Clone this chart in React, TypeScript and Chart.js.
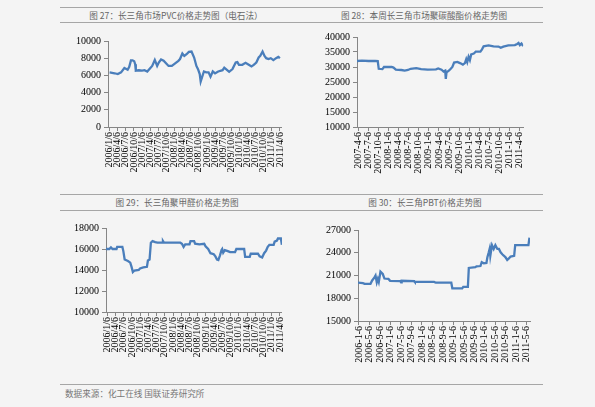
import React, { useEffect, useRef } from "react";
import { Chart, registerables } from "chart.js";

Chart.register(...registerables);

// ---------- DATA ----------
const quarterlyLabels = [
  "2006/1/6", "2006/4/6", "2006/7/6", "2006/10/6",
  "2007/1/6", "2007/4/6", "2007/7/6", "2007/10/6",
  "2008/1/6", "2008/4/6", "2008/7/6", "2008/10/6",
  "2009/1/6", "2009/4/6", "2009/7/6", "2009/10/6",
  "2010/1/6", "2010/4/6", "2010/7/6", "2010/10/6",
  "2011/1/6", "2011/4/6",
];

const pcLabels = [
  "2007-4-6", "2007-7-6", "2007-10-6", "2008-1-6", "2008-4-6", "2008-7-6",
  "2008-10-6", "2009-1-6", "2009-4-6", "2009-7-6", "2009-10-6", "2010-1-6",
  "2010-4-6", "2010-7-6", "2010-10-6", "2011-1-6", "2011-4-6",
];

const pbtLabels = [
  "2006-1-6", "2006-5-6", "2006-9-6", "2007-1-6", "2007-5-6", "2007-9-6",
  "2008-1-6", "2008-5-6", "2008-9-6", "2009-1-6", "2009-5-6", "2009-9-6",
  "2010-1-6", "2010-5-6", "2010-9-6", "2011-1-6", "2011-5-6",
];

// PVC (time in label periods since first label)
const pvcTime = [
  0, 0.61, 1.01, 1.41, 1.82, 2.22, 2.42, 2.63, 2.83, 3.03, 3.15, 3.23, 3.6, 4.0, 4.3,
  4.64, 5.05, 5.25, 5.57, 5.86, 6.06, 6.34, 6.66, 7.07, 7.27, 7.67, 8.08, 8.48, 8.68, 8.97,
  9.21, 9.49, 9.77, 10.1, 10.42, 10.7, 10.9, 11.11, 11.23, 11.39, 11.63, 11.91, 12.2, 12.44, 12.72,
  13.0, 13.33, 13.65, 13.93, 14.14, 14.46, 14.74, 15.15, 15.55, 15.75, 15.95, 16.36, 16.76, 17.16, 17.49,
  17.77, 18.09, 18.38, 18.58, 18.86, 19.1, 19.31, 19.59, 19.87, 20.19, 20.52, 20.8, 21.0,
];
const pvcPrice = [
  6350, 6250, 6150, 6350, 6850, 6650, 7000, 7750, 7750, 7650, 7300, 6550, 6600, 6550, 6600,
  6450, 6900, 7100, 7800, 7100, 7500, 7850, 7700, 7300, 7100, 7100, 7400, 7700, 7900, 8550,
  8270, 8460, 8730, 8770, 8080, 7100, 6730, 6150, 5300, 5770, 6460, 6350, 6350, 5850, 6460,
  6230, 6420, 6540, 6600, 6900, 6650, 6420, 6730, 7500, 7550, 7230, 7230, 7460, 7230, 7040,
  7230, 7500, 8080, 8270, 8770, 8270, 8000, 7900, 8000, 7770, 8000, 8150, 8000,
];

// PC
const pcTime = [
  -0.1, 0.39, 1.04, 1.69, 1.95, 2.05, 2.41, 2.57, 3.32, 3.51, 3.74, 4.29, 4.62, 4.94, 5.2,
  5.76, 6.24, 6.89, 7.71, 7.93, 8.26, 8.46, 8.62, 8.68, 8.75, 8.98, 9.17, 9.33, 9.5, 9.82,
  10.08, 10.37, 10.57, 10.7, 10.8, 10.93, 11.06, 11.19, 11.45, 11.64, 12.1, 12.26, 12.42, 12.91, 13.4,
  13.89, 14.11, 14.37, 14.86, 15.51, 15.74, 15.87, 16.0, 16.16, 16.33,
];
const pcPrice = [
  32000, 32100, 32000, 32050, 32000, 29400, 29300, 30000, 30000, 29800, 29100, 29000, 28800, 29000, 29400,
  29600, 29300, 29100, 29200, 29500, 29100, 28500, 28800, 26000, 28200, 28800, 29400, 30000, 31500, 31700,
  31300, 30800, 31300, 32600, 31600, 33400, 32300, 34200, 34500, 35100, 35150, 35900, 36900, 37200, 36900,
  36800, 36400, 36800, 37200, 37300, 37700, 38000, 37300, 37800, 37000,
];

// POM
const pomTime = [
  -0.16, 0.24, 0.44, 0.64, 1.12, 1.2, 1.83, 1.95, 2.11, 2.51, 2.79, 2.95, 3.11, 3.31, 3.82,
  3.98, 4.38, 4.82, 4.94, 5.14, 5.3, 5.5, 5.82, 6.1, 6.69, 6.77, 6.89, 8.88, 9.08, 9.28,
  9.48, 10.0, 10.12, 10.56, 10.68, 11.2, 11.79, 11.95, 12.27, 12.55, 12.95, 13.15, 13.35, 13.51, 13.71,
  13.9, 13.98, 14.1, 14.3, 14.66, 14.94, 15.54, 15.7, 16.65, 16.77, 17.33, 17.45, 18.33, 18.53, 18.84,
  19.08, 19.32, 19.52, 19.72, 20.24, 20.36, 20.64, 20.76, 21.12, 21.24,
];
const pomPrice = [
  16000, 16000, 16150, 16000, 16000, 16200, 16200, 15800, 15000, 14850, 14700, 14300, 13800, 13950, 14000,
  14150, 14250, 14300, 14900, 15000, 16600, 16750, 16650, 16600, 16600, 16750, 16600, 16600, 16500, 16200,
  16450, 16450, 16750, 16750, 16500, 16450, 16500, 16250, 16000, 15600, 15500, 15300, 15000, 14950, 15400,
  15900, 16000, 15650, 15900, 15800, 15700, 15700, 16000, 16000, 15250, 15250, 15550, 15550, 15300, 15200,
  15600, 15850, 16200, 16400, 16400, 16700, 16800, 17000, 17000, 16400,
];

// PBT
const pbtTime = [
  -0.09, 0.38, 0.54, 1.1, 1.26, 1.48, 1.58, 1.7, 1.8, 1.89, 2.05, 2.27, 2.43, 2.81, 2.97,
  3.94, 4.01, 4.07, 5.27, 5.33, 7.16, 7.32, 8.8, 8.9, 9.84, 9.94, 10.38, 10.47, 11.1, 11.2,
  11.58, 11.7, 11.89, 12.15, 12.24, 12.37, 12.46, 12.52, 12.68, 12.84, 13.0, 13.19, 13.34, 13.5, 13.66,
  13.82, 13.97, 14.13, 14.29, 14.45, 14.79, 14.89, 16.15, 16.25,
];
const pbtPrice = [
  20050, 20000, 19900, 19900, 20350, 20750, 21000, 20100, 20550, 20150, 21500, 21200, 20600, 20550, 20300,
  20250, 20100, 20300, 20250, 20150, 20150, 20050, 20050, 19300, 19300, 19500, 19500, 22000, 22100, 22200,
  22250, 22750, 22600, 22650, 23400, 24050, 24550, 23600, 25000, 24500, 25000, 24500, 24500, 24050, 23800,
  23600, 23400, 23050, 23250, 23500, 23600, 25000, 25000, 26000,
];

// ---------- CHART ----------
const AXIS = "#868686";
const LINE = "#4A7EBB";
const TICK_FONT = { family: "'Liberation Serif', 'Times New Roman', serif", size: 10 };

type Area = { left: number; top: number; right: number; bottom: number };

function MiniChart(props: {
  area: Area;
  labels: string[];
  time: number[];
  values: number[];
  xMin: number;
  xMax: number;
  yMin: number;
  yMax: number;
  yStep: number;
}) {
  const { area, labels, time, values, xMin, xMax, yMin, yMax, yStep } = props;
  const ref = useRef<HTMLCanvasElement>(null);
  const yAxisW = 46;
  const xAxisH = 52;
  const pad = 8;
  const cLeft = area.left - yAxisW;
  const cTop = area.top - pad;
  const cW = area.right + pad - cLeft;
  const cH = area.bottom + xAxisH - cTop;

  useEffect(() => {
    const chart = new Chart(ref.current!, {
      type: "line",
      data: {
        datasets: [
          {
            data: time.map((t, i) => ({ x: t, y: values[i] })),
            borderColor: LINE,
            borderWidth: 2.3,
            pointRadius: 0,
            tension: 0,
            fill: false,
          },
        ],
      },
      options: {
        animation: false,
        responsive: false,
        maintainAspectRatio: false,
        layout: { padding: { top: pad, right: pad, left: 0, bottom: 0 } },
        plugins: { legend: { display: false }, tooltip: { enabled: false } },
        scales: {
          x: {
            type: "linear",
            min: xMin,
            max: xMax,
            afterBuildTicks: (s: any) => {
              s.ticks = labels.map((_, i) => ({ value: i }));
            },
            afterFit: (s: any) => {
              s.height = xAxisH;
            },
            ticks: {
              autoSkip: false,
              minRotation: 90,
              maxRotation: 90,
              padding: 1,
              color: "#000",
              font: TICK_FONT,
              callback: (v: any) => labels[v as number] ?? "",
            },
            grid: { display: true, drawOnChartArea: false, drawTicks: true, tickLength: 4, color: AXIS },
            border: { color: AXIS, width: 1 },
          },
          y: {
            type: "linear",
            min: yMin,
            max: yMax,
            afterFit: (s: any) => {
              s.width = yAxisW;
            },
            ticks: {
              stepSize: yStep,
              padding: 3,
              color: "#000",
              font: TICK_FONT,
              callback: (v: any) => String(v),
            },
            grid: { display: true, drawOnChartArea: false, drawTicks: true, tickLength: 4, color: AXIS },
            border: { color: AXIS, width: 1 },
          },
        },
      },
    } as any);
    return () => chart.destroy();
  }, []);

  return (
    <canvas
      ref={ref}
      width={cW}
      height={cH}
      style={{ position: "absolute", left: cLeft, top: cTop, width: cW, height: cH }}
    />
  );
}

const hline = (y: number) => (
  <div style={{ position: "absolute", left: 60, top: y, width: 483, height: 1, background: "#a6a6a6" }} />
);

const titleStyle = (left: number, top: number, width: number): React.CSSProperties => ({
  position: "absolute",
  left,
  top,
  width,
  height: 12,
  lineHeight: "12px",
  fontSize: 8.6,
  color: "#666",
  textAlign: "center",
  whiteSpace: "nowrap",
});

export default function App() {
  return (
    <div
      style={{
        position: "absolute",
        left: 0,
        top: 0,
        width: 595,
        height: 407,
        background: "#f4f4f4",
        overflow: "hidden",
        fontFamily: '"Noto Sans CJK SC", sans-serif',
      }}
    >
      {hline(7)}
      {hline(22)}
      {hline(194)}
      {hline(210)}
      {hline(384)}
      <div style={titleStyle(60, 9, 232)}>图 27：长三角市场PVC价格走势图（电石法）</div>
      <div style={titleStyle(300, 9, 248)}>图 28：本周长三角市场聚碳酸酯价格走势图</div>
      <div style={titleStyle(62, 196, 230)}>图 29：长三角聚甲醛价格走势图</div>
      <div style={titleStyle(301, 196, 248)}>图 30：长三角PBT价格走势图</div>
      <div style={{ ...titleStyle(65, 387, 200), textAlign: "left", color: "#777" }}>
        数据来源：化工在线 国联证券研究所
      </div>

      <MiniChart
        area={{ left: 108, top: 40, right: 285, bottom: 127 }}
        labels={quarterlyLabels}
        time={pvcTime}
        values={pvcPrice}
        xMin={-0.2}
        xMax={21.2}
        yMin={0}
        yMax={10000}
        yStep={2000}
      />
      <MiniChart
        area={{ left: 357, top: 36, right: 525, bottom: 127 }}
        labels={pcLabels}
        time={pcTime}
        values={pcPrice}
        xMin={-0.1}
        xMax={16.33}
        yMin={10000}
        yMax={40000}
        yStep={5000}
      />
      <MiniChart
        area={{ left: 106, top: 227, right: 285, bottom: 312 }}
        labels={quarterlyLabels}
        time={pomTime}
        values={pomPrice}
        xMin={-0.16}
        xMax={21.24}
        yMin={10000}
        yMax={18000}
        yStep={2000}
      />
      <MiniChart
        area={{ left: 358, top: 229, right: 532, bottom: 321 }}
        labels={pbtLabels}
        time={pbtTime}
        values={pbtPrice}
        xMin={-0.09}
        xMax={16.31}
        yMin={15000}
        yMax={27000}
        yStep={3000}
      />
    </div>
  );
}
